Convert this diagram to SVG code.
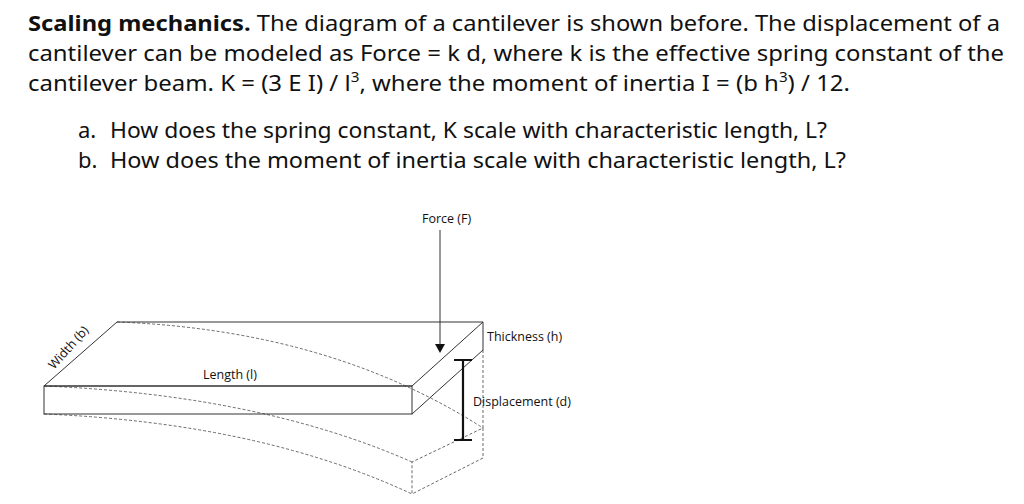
<svg xmlns="http://www.w3.org/2000/svg" width="1024" height="504" viewBox="0 0 1024 504">
<style>
.t{font-family:"Noto Sans",sans-serif;font-size:22px;fill:#111}
.s{font-family:"Open Sans",sans-serif;font-size:12.5px;fill:#111}
.l{fill:none;stroke:#333;stroke-width:1}
.d{fill:none;stroke:#444;stroke-width:0.8;stroke-dasharray:3 2}
</style>
<rect width="1024" height="504" fill="#fff"/>
<g id="text">
<text class="t" x="28" y="31" textLength="972" lengthAdjust="spacingAndGlyphs"><tspan font-weight="bold">Scaling mechanics.</tspan> The diagram of a cantilever is shown before. The displacement of a</text>
<text class="t" x="28" y="61" textLength="976" lengthAdjust="spacingAndGlyphs">cantilever can be modeled as Force = k d, where k is the effective spring constant of the</text>
<text class="t" x="28" y="91" textLength="822" lengthAdjust="spacingAndGlyphs">cantilever beam. K = (3 E I) / l<tspan font-size="14" dy="-9">3</tspan><tspan dy="9">, where the moment of inertia  I = (b h</tspan><tspan font-size="14" dy="-9">3</tspan><tspan dy="9">) / 12.</tspan></text>
<text class="t" x="78" y="138">a.</text><text class="t" x="110" y="138" textLength="717" lengthAdjust="spacingAndGlyphs">How does the spring constant, K scale with characteristic length, L?</text>
<text class="t" x="78" y="168">b.</text><text class="t" x="110" y="168" textLength="736" lengthAdjust="spacingAndGlyphs">How does the moment of inertia scale with characteristic length, L?</text>
</g>
<g id="bent">
<path class="d" d="M117,322 Q330,330 483,428"/>
<path class="d" d="M44,386 Q260,395 412,462"/>
<path class="d" d="M44,414 Q260,423 412,494"/>
<path class="d" d="M483,350 V428 L412,462 V494 M483,428 V458 L412,494"/>
</g>
<g id="beam">
<path class="l" d="M117,322 H483 L412,386 H44 Z"/>
<rect class="l" x="44" y="386" width="368" height="28"/>
<path class="l" d="M483,322 V350 L412,414"/>
</g>
<g id="connectors">
<line x1="440" y1="230" x2="440" y2="346" stroke="#333" stroke-width="1"/>
<path d="M435,344 L445,344 L440,353 Z" fill="#111"/>
<path d="M463,360 V440 M454,360 H472 M454,440 H472" stroke="#111" stroke-width="2.2" fill="none"/>
</g>
<g id="labels">
<text class="s" x="422" y="223">Force (F)</text>
<text class="s" x="487" y="341">Thickness (h)</text>
<text class="s" x="473" y="406">Displacement (d)</text>
<text class="s" x="203" y="379">Length (l)</text>
<text class="s" transform="translate(54,370) rotate(-48)">Width (b)</text>
</g>
</svg>
